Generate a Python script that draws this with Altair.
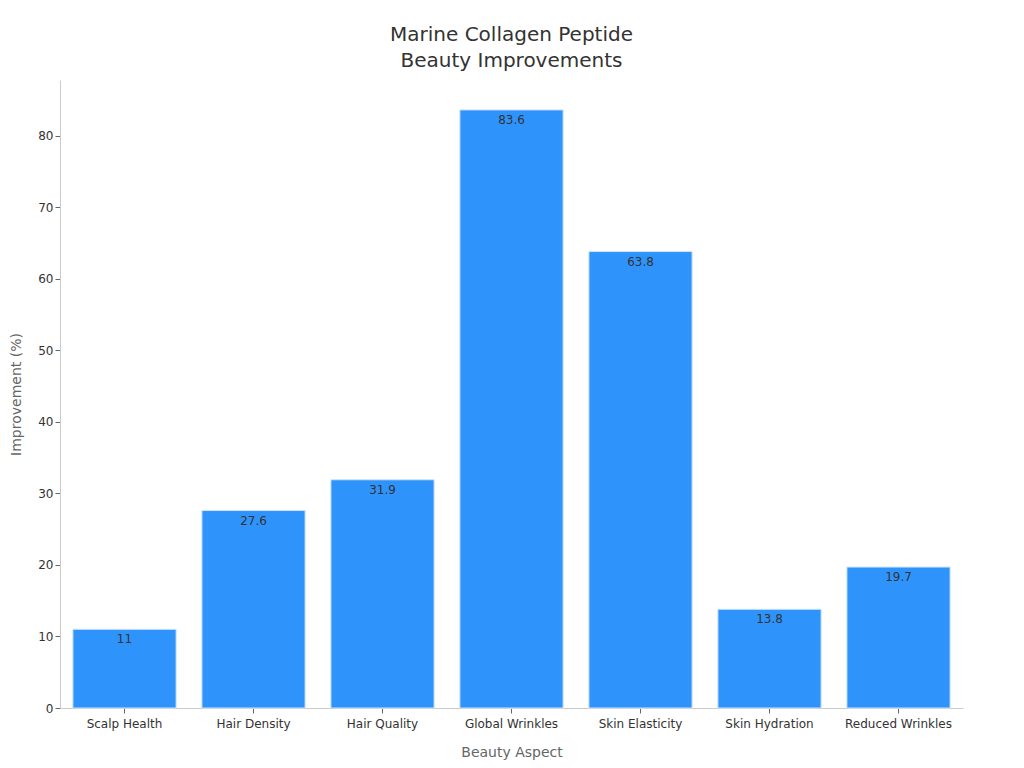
import altair as alt
import pandas as pd

aspects = ["Scalp Health", "Hair Density", "Hair Quality", "Global Wrinkles",
           "Skin Elasticity", "Skin Hydration", "Reduced Wrinkles"]
improvements = [11, 27.6, 31.9, 83.6, 63.8, 13.8, 19.7]
labels = ["11", "27.6", "31.9", "83.6", "63.8", "13.8", "19.7"]

df = pd.DataFrame({"aspect": aspects, "value": improvements, "label": labels})

x = alt.X("aspect:N", sort=aspects, title="Beauty Aspect",
          scale=alt.Scale(paddingInner=0.2, paddingOuter=0.1),
          axis=alt.Axis(labelAngle=0, labelFontSize=12, titleFontSize=14,
                        titleColor="#666666", titleFontWeight="normal",
                        labelColor="#333333", domainColor="#cccccc",
                        tickColor="#666666", titlePadding=16, labelPadding=5))
y = alt.Y("value:Q", title="Improvement (%)",
          scale=alt.Scale(domain=[0, 87.78], nice=False),
          axis=alt.Axis(values=[0, 10, 20, 30, 40, 50, 60, 70, 80], grid=False,
                        labelFontSize=12, titleFontSize=14, titleColor="#666666",
                        titleFontWeight="normal", labelColor="#333333",
                        domainColor="#cccccc", tickColor="#666666", titlePadding=14))

bars = alt.Chart(df).mark_bar(color="#2E93FA", stroke="#cfe3fb", strokeWidth=1).encode(x=x, y=y)
text = alt.Chart(df).mark_text(baseline="top", dy=5, fontSize=12, color="#333333",
                               font="DejaVu Sans").encode(
    x=alt.X("aspect:N", sort=aspects), y="value:Q", text="label:N")

chart = (bars + text).properties(
    width=903, height=628,
    padding={"left": 52, "top": 72, "right": 45, "bottom": 52},
    autosize=alt.AutoSizeParams(type="none"),
    title=alt.TitleParams(["Marine Collagen Peptide", "Beauty Improvements"],
                          fontSize=20, fontWeight="normal", color="#333333",
                          font="DejaVu Sans", anchor="middle", offset=9,
                          lineHeight=26),
).configure(font="DejaVu Sans").configure_view(stroke=None)

chart.save("out.html", embed_options={"renderer": "svg", "actions": False})
